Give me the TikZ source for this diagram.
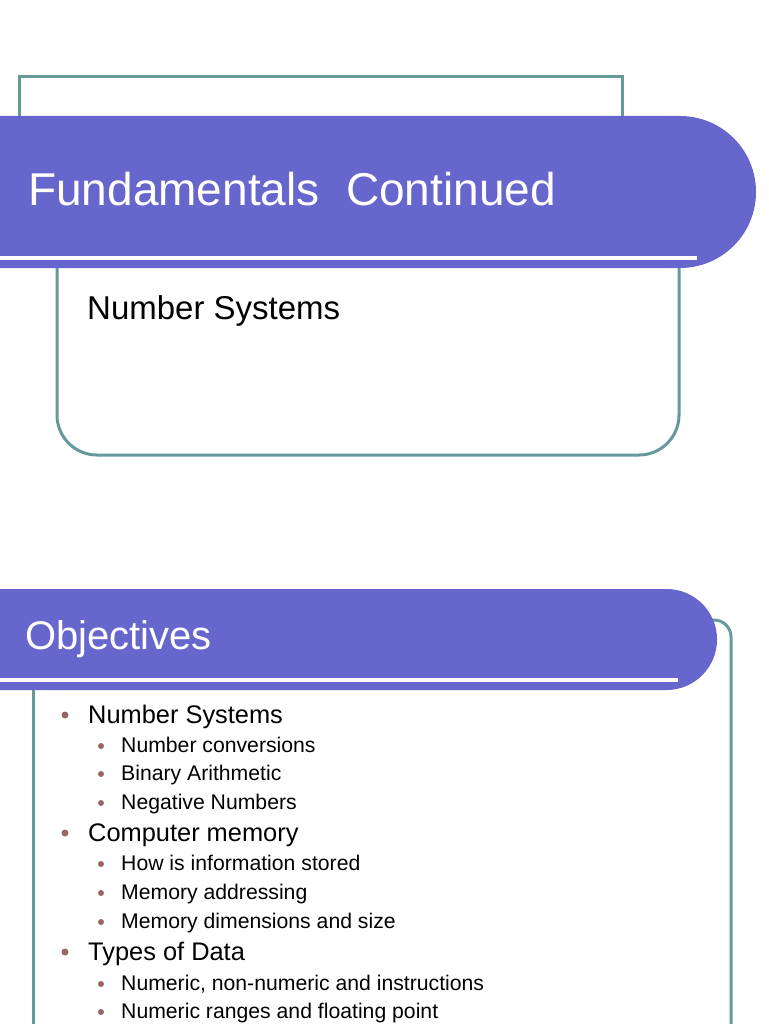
\documentclass[tikz,border=0pt]{standalone}
\usepackage{fontspec}
\setmainfont{Liberation Sans}
\definecolor{ban}{HTML}{6666CC}
\definecolor{teal}{HTML}{669999}
\definecolor{dot}{HTML}{996666}
\begin{document}
\begin{tikzpicture}[x=1pt,y=-1pt,
  outl/.style={draw=teal,line width=3pt},
  lone/.style={anchor=base west,inner sep=0pt,font=\fontsize{25.4}{30}\selectfont},
  ltwo/.style={anchor=base west,inner sep=0pt,font=\fontsize{21.2}{25}\selectfont},
  bdot/.style={fill=dot,circle,inner sep=0pt,minimum size=7pt}]
\useasboundingbox (0,0) rectangle (768,1024);
% slide 1
\draw[outl] (19,118) -- (19,77) -- (622,77) -- (622,118);
\draw[outl] (57,268) [rounded corners=40] -- (57,455) -- (679,455) [sharp corners] -- (679,268);
\fill[ban] (0,116) [rounded corners=75.9] -- (756,116) -- (756,268) [sharp corners] -- (0,268) -- cycle;
\fill[white] (0,256) rectangle (697,260);
\node[anchor=base west,inner sep=0pt,text=white,font=\fontsize{46}{52}\selectfont] (t1) at (28,206) {Fundamentals\hspace{0.3em}\ Continued};
\node[anchor=base west,inner sep=0pt,font=\fontsize{33}{38}\selectfont] (s1) at (87,319) {Number Systems};
% slide 2
\draw[outl] (700,620) [rounded corners=17] -- (731,620) [sharp corners] -- (731,1030);
\draw[outl] (33,690) -- (33,1030);
\fill[ban] (0,589) [rounded corners=50.4] -- (717,589) -- (717,690) [sharp corners] -- (0,690) -- cycle;
\fill[white] (0,678) rectangle (678,682);
\node[anchor=base west,inner sep=0pt,text=white,font=\fontsize{40}{46}\selectfont] (t2) at (25,649) {Objectives};
\foreach \y/\t [count=\i] in {723/Number Systems,841/Computer memory,960/Types of Data}
  {\node[bdot] (da\i) at (65,\y-8) {}; \node[lone] (a\i) at (88,\y) {\t};}
\foreach \y/\t [count=\i] in {752/Number conversions,780/Binary Arithmetic,809/Negative Numbers,870/How is information stored,899/Memory addressing,928/Memory dimensions and size,990/{Numeric, non-numeric and instructions},1018/Numeric ranges and floating point}
  {\node[bdot,minimum size=6pt] (db\i) at (101,\y-6) {}; \node[ltwo] (b\i) at (121,\y) {\t};}
\end{tikzpicture}
\end{document}
